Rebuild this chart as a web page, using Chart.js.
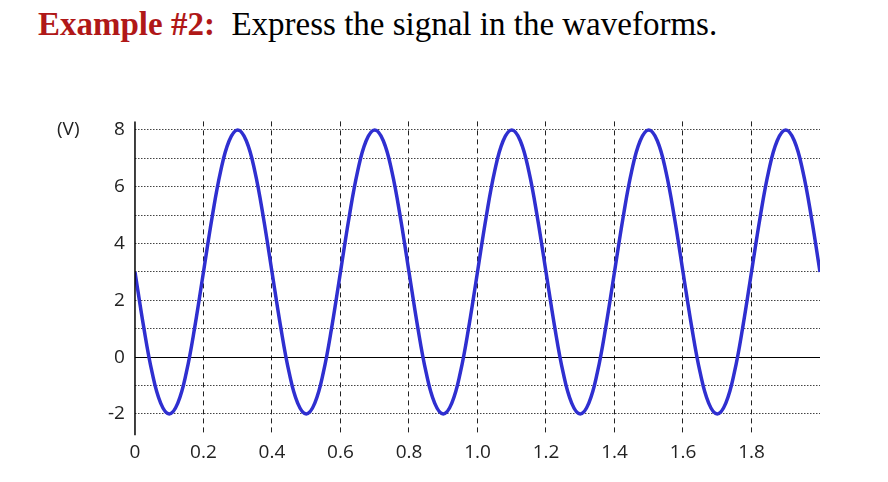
<!DOCTYPE html>
<html>
<head>
<meta charset="utf-8">
<script src="https://cdn.jsdelivr.net/npm/chart.js@4/dist/chart.umd.min.js"></script>
<style>
  body { margin: 0; background: #fff; width: 888px; height: 482px; overflow: hidden; position: relative; }
  #title { position: absolute; left: 38px; top: 6px; font-family: "Liberation Serif", serif; font-size: 33px; white-space: pre; }
  #title b { color: #b01818; }
  #wrap { position: absolute; left: 40px; top: 100px; width: 820px; height: 370px; }
</style>
</head>
<body>
<div id="title"><b>Example #2:</b>  Express the signal in the waveforms.</div>
<div id="wrap"><canvas id="c"></canvas></div>
<script>
// time samples (sec) and voltage
const times = [];
for (let i = 0; i <= 80; i++) times.push(+(i * 0.025).toFixed(3));
const volts = [
  3, 1.09, -0.54, -1.62, -2, -1.62, -0.54, 1.09, 3, 4.91, 6.54, 7.62, 8, 7.62, 6.54, 4.91,
  3, 1.09, -0.54, -1.62, -2, -1.62, -0.54, 1.09, 3, 4.91, 6.54, 7.62, 8, 7.62, 6.54, 4.91,
  3, 1.09, -0.54, -1.62, -2, -1.62, -0.54, 1.09, 3, 4.91, 6.54, 7.62, 8, 7.62, 6.54, 4.91,
  3, 1.09, -0.54, -1.62, -2, -1.62, -0.54, 1.09, 3, 4.91, 6.54, 7.62, 8, 7.62, 6.54, 4.91,
  3, 1.09, -0.54, -1.62, -2, -1.62, -0.54, 1.09, 3, 4.91, 6.54, 7.62, 8, 7.62, 6.54, 4.91,
  3
];
const yLabels = [-2, 0, 2, 4, 6, 8];
const xLabels = [0, 0.2, 0.4, 0.6, 0.8, 1.0, 1.2, 1.4, 1.6, 1.8];

Chart.defaults.font.family = "Open Sans";
Chart.defaults.font.size = 19;
Chart.defaults.color = "#222";

const extras = {
  id: "extras",
  afterDraw(chart) {
    const { ctx, scales: { x, y } } = chart;
    ctx.save();
    ctx.strokeStyle = "#000";
    ctx.lineWidth = 1.5;
    ctx.beginPath();
    ctx.moveTo(x.left, y.top);
    ctx.lineTo(x.left, y.bottom);
    ctx.stroke();
    ctx.font = '19px "Open Sans", sans-serif';
    ctx.fillStyle = "#222";
    ctx.textBaseline = "middle";
    ctx.textAlign = "left";
    ctx.fillText("(V)", x.left - 78, y.getPixelForValue(8));
    ctx.fillText("(sec)", x.getPixelForValue(1.87), x.bottom + 22);
    ctx.restore();
  }
};

new Chart(document.getElementById("c"), {
  type: "line",
  data: {
    datasets: [{
      data: times.map((t, i) => ({ x: t, y: volts[i] })),
      borderColor: "#2f2fd0",
      borderWidth: 3.5,
      pointRadius: 0,
      tension: 0.4,
      fill: false
    }]
  },
  options: {
    responsive: true,
    maintainAspectRatio: false,
    animation: false,
    layout: { padding: { left: 58, right: 40, top: 8, bottom: 0 } },
    plugins: { legend: { display: false }, tooltip: { enabled: false } },
    scales: {
      x: {
        type: "linear", min: 0, max: 2,
        afterBuildTicks: (s) => { s.ticks = xLabels.map(v => ({ value: v })); },
        ticks: { padding: 6, callback: (v) => v === 0 ? "0" : v.toFixed(1) },
        grid: { color: (c) => c.tick && c.tick.value === 0 ? "rgba(0,0,0,0)" : "#222", lineWidth: 1, drawTicks: false },
        border: { display: false, dash: [5, 4] }
      },
      y: {
        min: -2.75, max: 8.3,
        afterBuildTicks: (s) => {
          const t = [];
          for (let v = -2; v <= 8; v++) t.push({ value: v });
          s.ticks = t;
        },
        ticks: { padding: 10, callback: (v) => yLabels.includes(v) ? String(v) : "" },
        grid: {
          color: (c) => c.tick && c.tick.value === 0 ? "#000" : "#444",
          lineWidth: 1, drawTicks: false
        },
        border: {
          display: false,
          dash: (c) => c.tick && c.tick.value === 0 ? [] : [1.5, 1.5]
        }
      }
    }
  },
  plugins: [extras]
});
</script>
</body>
</html>
